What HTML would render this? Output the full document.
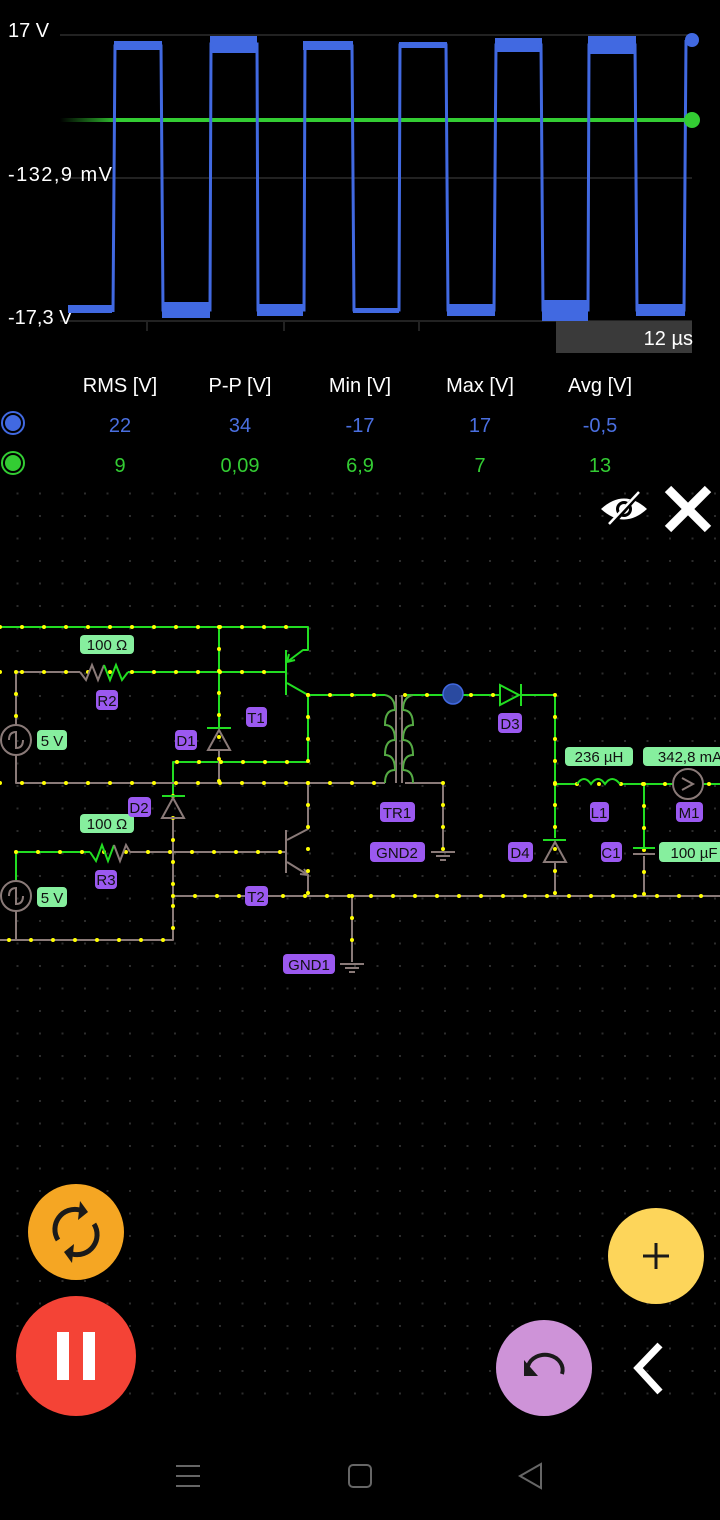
<!DOCTYPE html>
<html><head><meta charset="utf-8">
<style>
html,body{margin:0;padding:0;background:#000;width:720px;height:1520px;overflow:hidden}
svg{display:block}
text{font-family:"Liberation Sans",sans-serif}
</style></head>
<body>
<svg width="720" height="1520" viewBox="0 0 720 1520" xmlns="http://www.w3.org/2000/svg">
<defs>
<pattern id="grid" x="16.5" y="492.5" width="22.5" height="22.5" patternUnits="userSpaceOnUse">
<rect x="0" y="0" width="2" height="2" fill="#2c2c2c"/>
</pattern>
<linearGradient id="gfade" x1="0" x2="1">
<stop offset="0" stop-color="#000"/><stop offset="1" stop-color="#33cc33"/>
</linearGradient>
</defs>
<rect x="0" y="0" width="720" height="1520" fill="#000"/>
<rect x="0" y="480" width="720" height="935" fill="url(#grid)"/>

<!-- Scope -->
<g stroke="#444" stroke-width="1">
<line x1="60" y1="35" x2="692" y2="35"/>
<line x1="60" y1="178" x2="692" y2="178"/>
<line x1="60" y1="321" x2="692" y2="321"/>
<line x1="147" y1="322" x2="147" y2="331"/>
<line x1="284" y1="322" x2="284" y2="331"/>
<line x1="419" y1="322" x2="419" y2="331"/>
</g>
<rect x="556" y="321" width="136" height="32" fill="#3a3a3a"/>
<text x="693" y="345" fill="#fff" font-size="20" text-anchor="end">12 µs</text>
<text x="8" y="37" fill="#fff" font-size="20">17 V</text>
<text x="8" y="181" fill="#fff" font-size="20" textLength="104">-132,9 mV</text>
<text x="8" y="324" fill="#fff" font-size="20">-17,3 V</text>

<rect x="60" y="118" width="60" height="4" fill="url(#gfade)"/>
<rect x="115" y="118" width="577" height="4" fill="#33cc33"/>

<g fill="#4169e1">
<rect x="68" y="305" width="44" height="8"/>
<rect x="114" y="41" width="48" height="9"/>
<rect x="162" y="302" width="48" height="16"/>
<rect x="210" y="36" width="47" height="17"/>
<rect x="257" y="304" width="46" height="12"/>
<rect x="303" y="41" width="50" height="9"/>
<rect x="353" y="308" width="46" height="5"/>
<rect x="399" y="42" width="48" height="6"/>
<rect x="447" y="304" width="48" height="12"/>
<rect x="495" y="38" width="47" height="14"/>
<rect x="542" y="300" width="46" height="21"/>
<rect x="588" y="36" width="48" height="18"/>
<rect x="636" y="304" width="49" height="12"/>
</g>
<polyline fill="none" stroke="#4169e1" stroke-width="3" points="113,312 115,46 161,46 163,310 210,310 211,44 257,44 258,310 304,310 305,46 352,46 354,310 399,310 400,45 446,45 448,310 494,310 496,45 541,45 543,310 588,310 589,45 635,45 637,310 684,310 686,40"/>
<circle cx="692" cy="40" r="7" fill="#4169e1"/>
<circle cx="692" cy="120" r="8" fill="#33cc33"/>

<!-- Table -->
<g font-size="20" text-anchor="middle">
<g fill="#fff">
<text x="120" y="392">RMS [V]</text><text x="240" y="392">P-P [V]</text><text x="360" y="392">Min [V]</text><text x="480" y="392">Max [V]</text><text x="600" y="392">Avg [V]</text>
</g>
<g fill="#4a6fe0">
<text x="120" y="432">22</text><text x="240" y="432">34</text><text x="360" y="432">-17</text><text x="480" y="432">17</text><text x="600" y="432">-0,5</text>
</g>
<g fill="#33cc33">
<text x="120" y="472">9</text><text x="240" y="472">0,09</text><text x="360" y="472">6,9</text><text x="480" y="472">7</text><text x="600" y="472">13</text>
</g>
</g>
<circle cx="13" cy="423" r="11" fill="none" stroke="#4169e1" stroke-width="2"/>
<circle cx="13" cy="423" r="8" fill="#4169e1"/>
<circle cx="13" cy="463" r="11" fill="none" stroke="#33cc33" stroke-width="2"/>
<circle cx="13" cy="463" r="8" fill="#33cc33"/>

<!-- eye & X -->
<path d="M601,509 Q624,488 647,509 Q624,530 601,509 Z" fill="#fff"/>
<circle cx="624" cy="509" r="8" fill="#000"/>
<circle cx="624" cy="509" r="5" fill="#fff"/>
<line x1="610" y1="526" x2="640" y2="492" stroke="#000" stroke-width="5"/>
<line x1="609" y1="524" x2="639" y2="492" stroke="#fff" stroke-width="2.5"/>
<g stroke="#fff" stroke-width="9"><line x1="668" y1="489" x2="708" y2="529"/><line x1="708" y1="489" x2="668" y2="529"/></g>

<!-- Circuit wires -->
<g fill="none" stroke-width="2" stroke-linejoin="round">
<g stroke="#22dd22">
<polyline points="0,627 308,627 308,650 303,650 287,662"/>
<polyline points="128,672 286,672"/>
<polyline points="219,627 219,728"/>
<polyline points="287,683 308,695 385,695"/>
<polyline points="308,695 308,762 173,762 173,795"/>
<polyline points="16,880 16,852 90,852"/>
<polyline points="405,695 500,695"/>
<polyline points="521,695 555,695 555,838"/>
<polyline points="555,784 577,784"/>
<polyline points="620,784 720,784"/>
<polyline points="644,784 644,848"/>
<path d="M287,662 l2,-8 M287,662 l8,-2"/>
</g>
<g stroke="#8a7a78">
<polyline points="16,725 16,672 80,672"/>
<polyline points="16,755 16,783 385,783"/>
<polyline points="219,750 219,783"/>
<polyline points="405,783 443,783 443,850"/>
<polyline points="173,818 173,940 0,940"/>
<polyline points="16,911 16,940"/>
<polyline points="130,852 285,852"/>
<polyline points="287,840 308,829 308,783"/>
<polyline points="287,862 308,875 308,896"/>
<polyline points="173,896 720,896"/>
<polyline points="352,896 352,962"/>
<polyline points="555,862 555,896"/>
<polyline points="644,856 644,896"/>
<path d="M308,875 l-8,-1 M308,875 l-4,-6"/>
</g>
</g>
<!-- yellow dots -->
<g fill="none" stroke="#ffff00" stroke-width="4" stroke-linecap="round" stroke-dasharray="0 22">
<polyline points="0,627 308,627"/><polyline points="0,672 286,672"/>
<polyline points="219,627 219,783"/><polyline points="308,695 385,695"/>
<polyline points="308,695 308,762 173,762"/><polyline points="16,672 16,725"/>
<polyline points="0,783 385,783"/><polyline points="16,852 285,852"/>
<polyline points="173,796 173,940 0,940"/><polyline points="173,896 720,896"/>
<polyline points="352,896 352,962"/><polyline points="405,695 500,695"/>
<polyline points="555,695 555,896"/><polyline points="555,784 720,784"/>
<polyline points="644,784 644,896"/><polyline points="443,783 443,850"/>
<polyline points="308,783 308,896"/>
</g>
<!-- resistors -->
<polyline fill="none" stroke="#8a7a78" stroke-width="2" points="80,672 86,680 92,665 98,680 104,665"/>
<polyline fill="none" stroke="#22dd22" stroke-width="2" points="104,665 110,680 116,665 122,680 128,672"/>
<polyline fill="none" stroke="#22dd22" stroke-width="2" points="90,852 96,861 102,845 108,861 114,845"/>
<polyline fill="none" stroke="#8a7a78" stroke-width="2" points="114,845 120,861 126,845 130,852"/>
<!-- transistors bars -->
<line x1="286" y1="650" x2="286" y2="695" stroke="#22dd22" stroke-width="2"/>
<line x1="286" y1="830" x2="286" y2="873" stroke="#8a7a78" stroke-width="2"/>
<!-- sources -->
<g fill="none" stroke="#8a7a78" stroke-width="2">
<circle cx="16" cy="740" r="15"/><path d="M9,740 q0,-8 7,-8 v16 q7,0 7,-8"/>
<circle cx="16" cy="896" r="15"/><path d="M9,896 q0,-8 7,-8 v16 q7,0 7,-8"/>
</g>
<!-- diodes -->
<line x1="207" y1="728" x2="231" y2="728" stroke="#22dd22" stroke-width="2"/>
<polygon points="219,730 208,750 230,750" fill="none" stroke="#8a7a78" stroke-width="2"/>
<line x1="162" y1="796" x2="185" y2="796" stroke="#22dd22" stroke-width="2"/>
<polygon points="173,798 162,818 184,818" fill="none" stroke="#8a7a78" stroke-width="2"/>
<polygon points="500,685 500,705 519,695" fill="none" stroke="#22dd22" stroke-width="2"/>
<line x1="521" y1="684" x2="521" y2="706" stroke="#22dd22" stroke-width="2"/>
<line x1="543" y1="840" x2="566" y2="840" stroke="#22dd22" stroke-width="2"/>
<polygon points="555,842 544,862 566,862" fill="none" stroke="#8a7a78" stroke-width="2"/>
<!-- probe -->
<circle cx="453" cy="694" r="10" fill="#2a4aa0" stroke="#4169e1" stroke-width="1.5"/>
<!-- transformer -->
<g fill="none" stroke-width="2">
<line x1="396" y1="695" x2="396" y2="783" stroke="#8a7a78"/>
<line x1="402" y1="695" x2="402" y2="783" stroke="#8a7a78"/>
<path d="M385,695 q10,2 10,15 q-10,0 -10,15 q10,0 10,15 q-10,0 -10,15 q10,0 10,15 q-10,0 -10,13" stroke="#55aa44"/>
<path d="M413,695 q-10,2 -10,15 q10,0 10,15 q-10,0 -10,15 q10,0 10,15 q-10,0 -10,15 q10,0 10,13" stroke="#55aa44"/>
</g>
<!-- inductor -->
<path d="M577,784 q7,-10 14,0 q7,-10 14,0 q7,-10 15,0" fill="none" stroke="#22dd22" stroke-width="2"/>
<!-- meter -->
<circle cx="688" cy="784" r="15" fill="#000" stroke="#8a7a78" stroke-width="2"/>
<polyline points="682,778 693,784 682,790" fill="none" stroke="#8a7a78" stroke-width="2"/>
<!-- capacitor -->
<line x1="633" y1="848" x2="655" y2="848" stroke="#22dd22" stroke-width="2"/>
<line x1="633" y1="854" x2="655" y2="854" stroke="#8a7a78" stroke-width="2"/>
<!-- grounds -->
<g stroke="#8a7a78" stroke-width="2">
<line x1="431" y1="852" x2="455" y2="852"/><line x1="436" y1="856" x2="450" y2="856"/><line x1="440" y1="860" x2="446" y2="860"/>
<line x1="340" y1="964" x2="364" y2="964"/><line x1="345" y1="968" x2="359" y2="968"/><line x1="349" y1="972" x2="355" y2="972"/>
</g>

<!-- labels -->
<g font-size="15" text-anchor="middle" fill="#111">
<g fill="#86ef9e">
<rect x="80" y="635" width="54" height="19" rx="4"/><rect x="80" y="814" width="54" height="19" rx="4"/>
<rect x="37" y="730" width="30" height="20" rx="4"/><rect x="37" y="887" width="30" height="20" rx="4"/>
<rect x="565" y="747" width="68" height="19" rx="4"/><rect x="643" y="747" width="85" height="19" rx="4"/>
<rect x="659" y="842" width="70" height="20" rx="4"/>
</g>
<g fill="#9b59f0">
<rect x="96" y="690" width="22" height="20" rx="4"/><rect x="246" y="707" width="21" height="20" rx="4"/>
<rect x="175" y="730" width="22" height="20" rx="4"/><rect x="128" y="797" width="23" height="20" rx="4"/>
<rect x="95" y="870" width="22" height="19" rx="4"/><rect x="245" y="886" width="23" height="20" rx="4"/>
<rect x="283" y="954" width="52" height="20" rx="4"/><rect x="380" y="802" width="35" height="20" rx="4"/>
<rect x="370" y="842" width="55" height="20" rx="4"/><rect x="498" y="713" width="24" height="20" rx="4"/>
<rect x="508" y="842" width="25" height="20" rx="4"/><rect x="590" y="802" width="19" height="20" rx="4"/>
<rect x="676" y="802" width="27" height="20" rx="4"/><rect x="601" y="842" width="21" height="20" rx="4"/>
</g>
<text x="107" y="650">100 Ω</text><text x="107" y="829">100 Ω</text>
<text x="52" y="746">5 V</text><text x="52" y="903">5 V</text>
<text x="599" y="762">236 µH</text><text x="690" y="762">342,8 mA</text><text x="694" y="858">100 µF</text>
<text x="107" y="706">R2</text><text x="256" y="723">T1</text><text x="186" y="746">D1</text>
<text x="139" y="813">D2</text><text x="106" y="885">R3</text><text x="256" y="902">T2</text>
<text x="309" y="970">GND1</text><text x="397" y="818">TR1</text><text x="397" y="858">GND2</text>
<text x="510" y="729">D3</text><text x="520" y="858">D4</text><text x="599" y="818">L1</text>
<text x="689" y="818">M1</text><text x="611" y="858">C1</text>
</g>

<!-- buttons -->
<circle cx="76" cy="1232" r="48" fill="#f5a623"/>
<g fill="none" stroke="#1a1a1a" stroke-width="5">
<path d="M58,1240 A20,20 0 0 1 80,1210"/>
<path d="M94,1224 A20,20 0 0 1 72,1254"/>
</g>
<polygon points="80,1201 88,1212 78,1220" fill="#1a1a1a"/>
<polygon points="72,1263 64,1252 74,1244" fill="#1a1a1a"/>
<circle cx="76" cy="1356" r="60" fill="#f44336"/>
<rect x="57" y="1332" width="12" height="48" fill="#fff"/><rect x="83" y="1332" width="12" height="48" fill="#fff"/>
<circle cx="656" cy="1256" r="48" fill="#fdd55a"/>
<g stroke="#1a1a1a" stroke-width="3"><line x1="643" y1="1256" x2="669" y2="1256"/><line x1="656" y1="1243" x2="656" y2="1269"/></g>
<circle cx="544" cy="1368" r="48" fill="#ce93d8"/>
<path d="M528,1366 A15,13 0 0 1 562,1374" fill="none" stroke="#1a1a1a" stroke-width="4"/>
<polygon points="524,1360 524,1376 538,1376" fill="#1a1a1a"/>
<polyline points="660,1345 638,1368 660,1392" fill="none" stroke="#fff" stroke-width="7"/>

<!-- nav -->
<g stroke="#666" stroke-width="2" fill="none">
<line x1="176" y1="1466" x2="200" y2="1466"/><line x1="176" y1="1476" x2="200" y2="1476"/><line x1="176" y1="1486" x2="200" y2="1486"/>
<rect x="349" y="1465" width="22" height="22" rx="4"/>
<path d="M541,1464 L520,1476 L541,1488 Z"/>
</g>
</svg>
</body></html>
